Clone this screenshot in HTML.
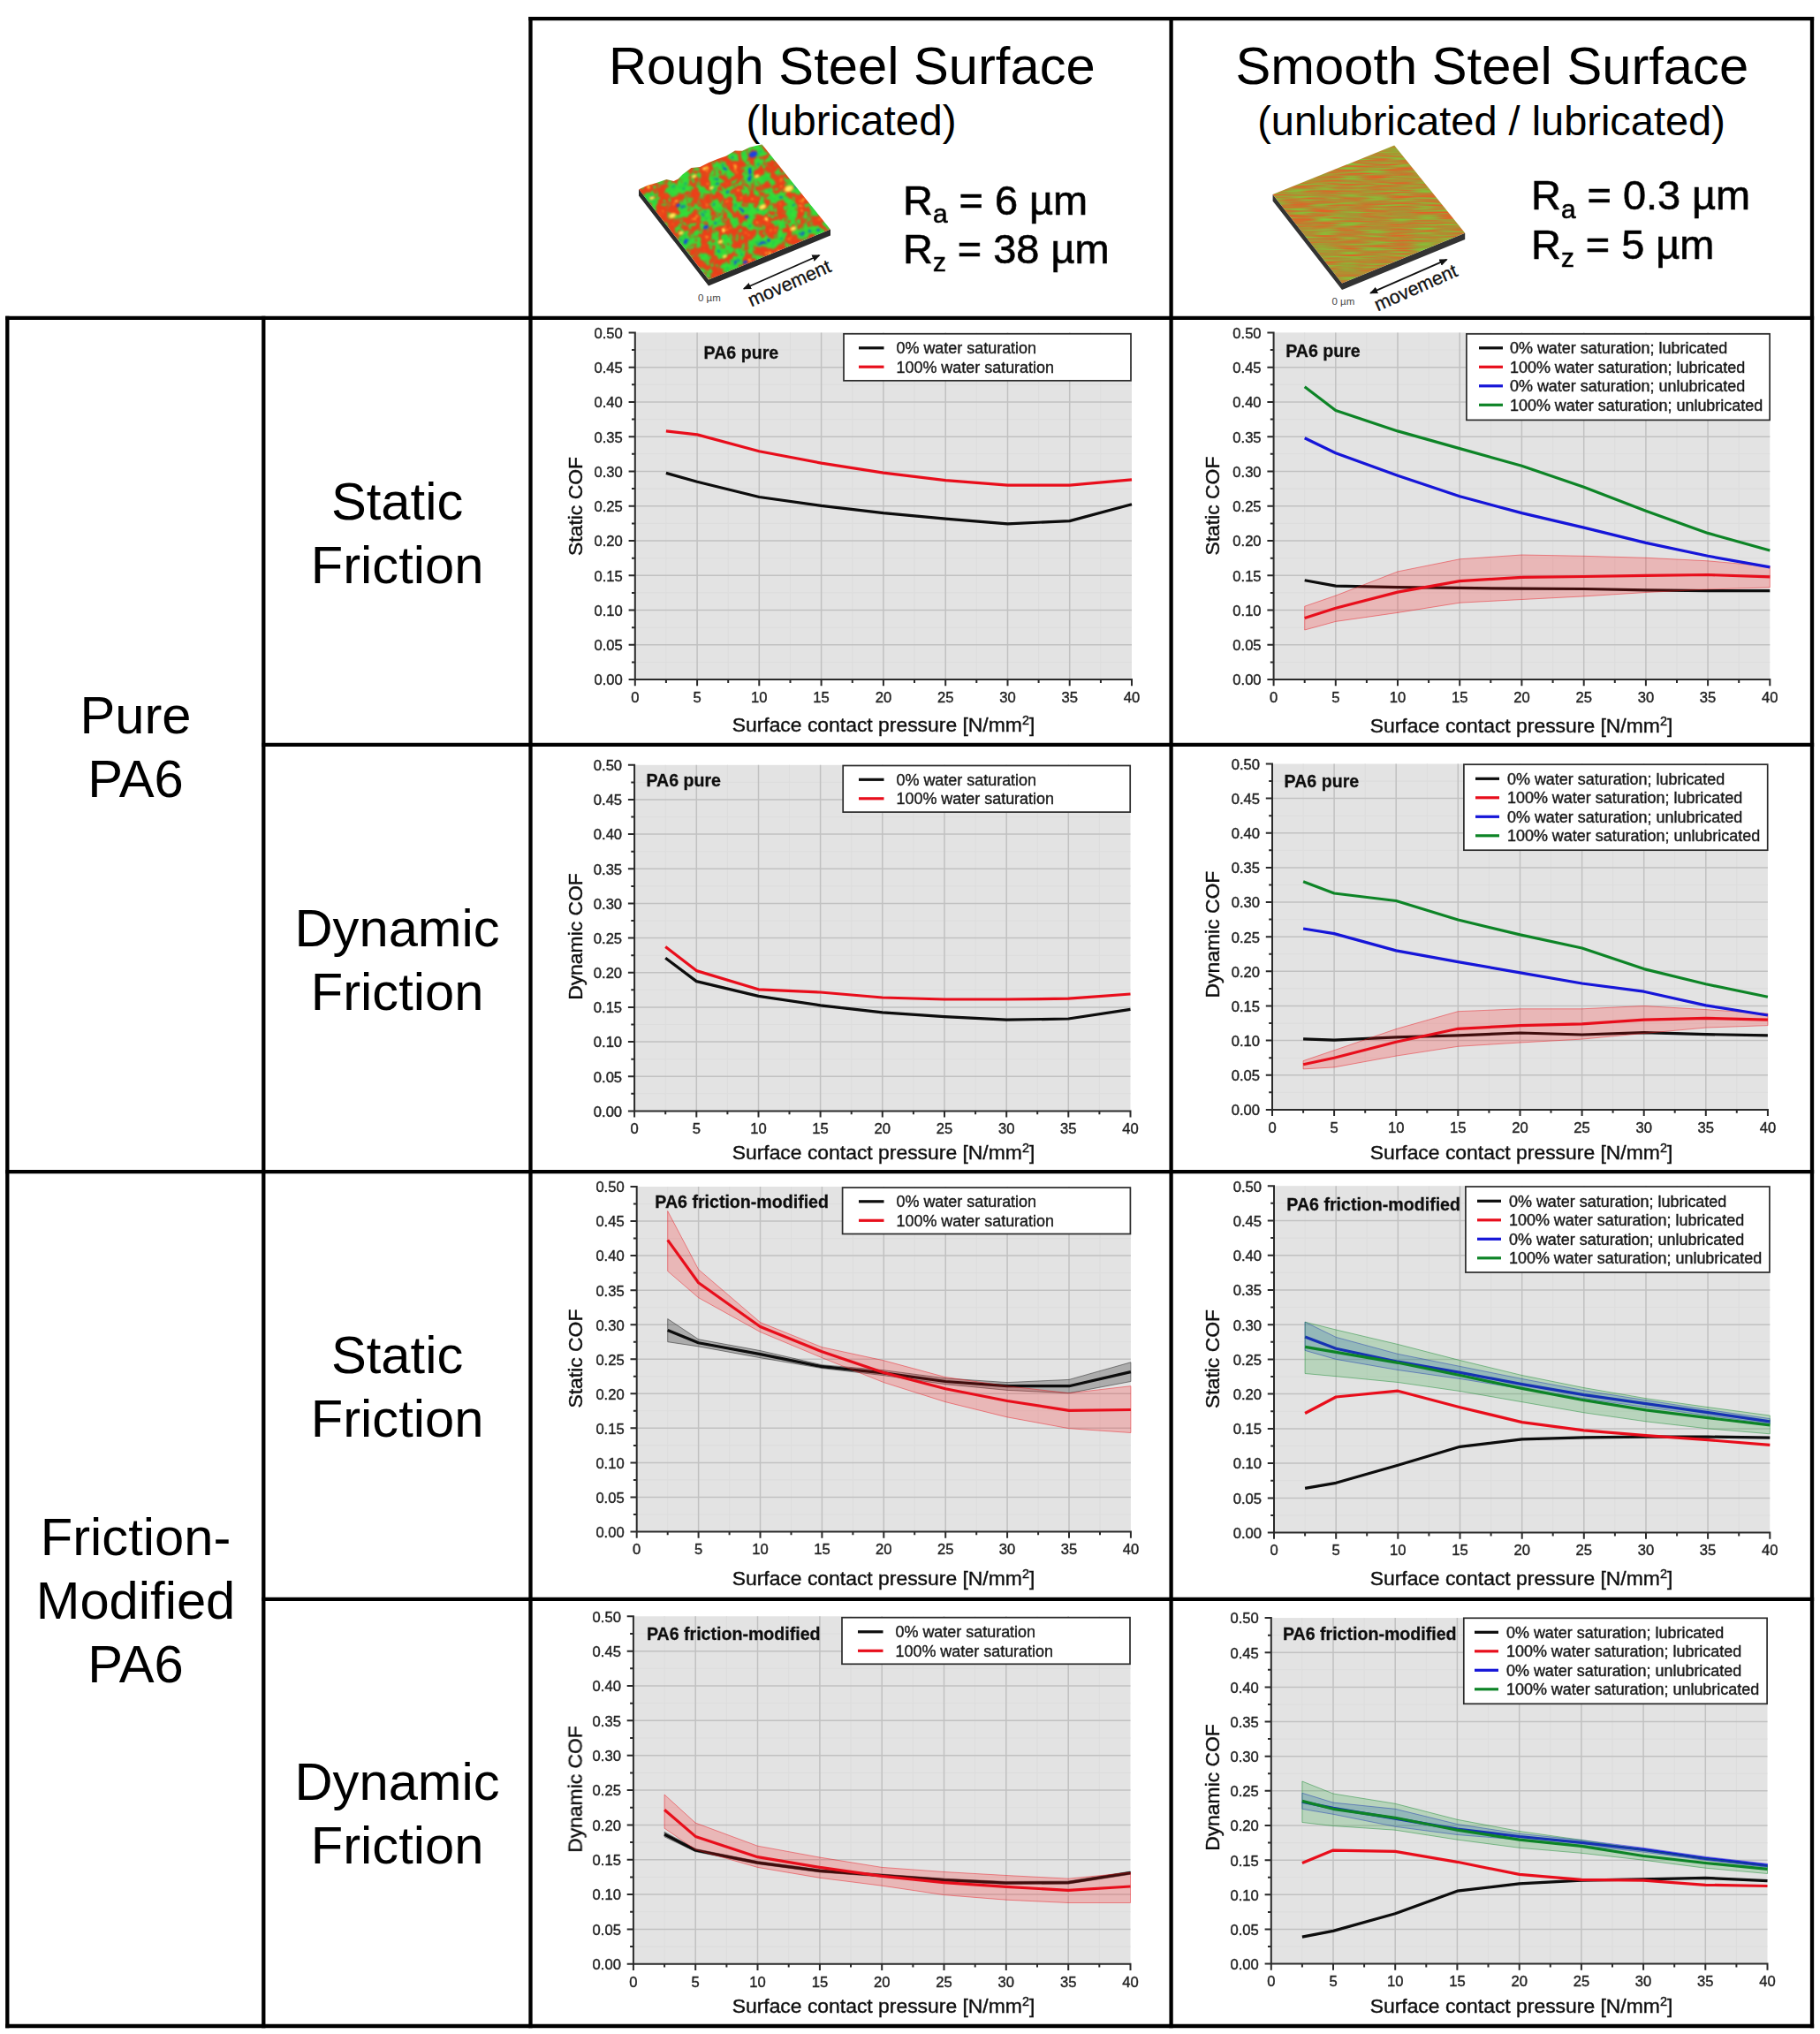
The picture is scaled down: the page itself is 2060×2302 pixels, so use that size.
<!DOCTYPE html>
<html lang="en"><head><meta charset="utf-8"><title>Friction of PA6 on steel surfaces</title>
<style>
html,body{margin:0;padding:0;background:#fff}
svg{display:block}
text{font-family:"Liberation Sans",Arial,Helvetica,sans-serif;fill:#000}
.big{font-size:59.7px}
.sub{font-size:47.6px}
.tk text{font-size:16.6px;fill:#222;stroke:#222;stroke-width:.4px}
.al{font-size:22.9px;fill:#111;stroke:#111;stroke-width:.4px}
.tt{font-size:19.6px;font-weight:bold;fill:#111;stroke:#111;stroke-width:.3px}
.lg{font-size:17.95px;fill:#1a1a1a;stroke:#1a1a1a;stroke-width:.4px}
.ra{font-size:46.9px;fill:#111;stroke:#111;stroke-width:0.7px}
.mv{font-size:21.5px;fill:#111;stroke:#111;stroke-width:.3px}
.um{font-size:11.5px;fill:#444}
</style></head><body>
<svg width="2060" height="2302" viewBox="0 0 2060 2302">
<rect width="2060" height="2302" fill="#fff"/>
<defs>
<filter id="soft" x="-2%" y="-2%" width="104%" height="104%"><feGaussianBlur stdDeviation="0.65"/></filter>
<filter id="soft2" x="-30%" y="-30%" width="160%" height="160%"><feGaussianBlur stdDeviation="0.9"/></filter>
<filter id="rough" x="0" y="0" width="100%" height="100%" color-interpolation-filters="sRGB">
<feTurbulence type="fractalNoise" baseFrequency="0.082" numOctaves="3" seed="4" result="n0"/>
<feTurbulence type="fractalNoise" baseFrequency="0.3" numOctaves="1" seed="9" result="n2"/>
<feColorMatrix in="n0" type="matrix" values="1 0 0 0 0  1 0 0 0 0  1 0 0 0 0  0 0 0 0 1" result="g0"/>
<feColorMatrix in="n2" type="matrix" values="1 0 0 0 0  1 0 0 0 0  1 0 0 0 0  0 0 0 0 1" result="g2"/>
<feComposite in="g0" in2="g2" operator="arithmetic" k1="0" k2="0.85" k3="0.3" k4="-0.075" result="n"/>
<feColorMatrix in="n" type="matrix" values="1.5 0 0 0 -0.285  1.5 0 0 0 -0.285  1.5 0 0 0 -0.285  0 0 0 0 1" result="g"/>
<feComponentTransfer in="g" result="c">
<feFuncR type="discrete" tableValues="0.10 0.12 0.15 0.18 0.20 0.22 0.25 0.60 0.90 0.92 0.92 0.92 0.93 0.95 1.00 1.00"/>
<feFuncG type="discrete" tableValues="0.25 0.45 0.80 0.85 0.87 0.87 0.80 0.50 0.27 0.25 0.25 0.26 0.30 0.50 0.85 0.95"/>
<feFuncB type="discrete" tableValues="0.90 0.70 0.30 0.22 0.22 0.22 0.20 0.15 0.10 0.10 0.10 0.10 0.10 0.12 0.22 0.45"/>
</feComponentTransfer>
<feGaussianBlur in="c" stdDeviation="0.9" result="b"/>
<feComposite in="b" in2="SourceGraphic" operator="in"/>
</filter>
<filter id="smooth" x="0" y="0" width="100%" height="100%" color-interpolation-filters="sRGB">
<feTurbulence type="fractalNoise" baseFrequency="0.02 0.04" numOctaves="2" seed="5" result="n"/>
<feColorMatrix in="n" type="matrix" values="1.0 0 0 0 0  1.0 0 0 0 0  1.0 0 0 0 0  0 0 0 0 1" result="g"/>
<feComponentTransfer in="g" result="c">
<feFuncR type="table" tableValues="0.45 0.56 0.64 0.69 0.73 0.80 0.86"/>
<feFuncG type="table" tableValues="0.82 0.70 0.60 0.555 0.51 0.45 0.40"/>
<feFuncB type="table" tableValues="0.22 0.21 0.20 0.20 0.19 0.18 0.17"/>
</feComponentTransfer>
<feTurbulence type="fractalNoise" baseFrequency="0.035 0.5" numOctaves="1" seed="11" result="s"/>
<feColorMatrix in="s" type="matrix" values="0 0 0 0 0.89  0 0 0 0 0.38  0 0 0 0 0.15  3 0 0 0 -1.25" result="st"/>
<feColorMatrix in="s" type="matrix" values="0 0 0 0 0.50  0 0 0 0 0.78  0 0 0 0 0.22  0 3 0 0 -1.35" result="sg"/>
<feComposite in="st" in2="c" operator="over" result="m1"/>
<feComposite in="sg" in2="m1" operator="over" result="m"/>
<feGaussianBlur in="m" stdDeviation="0.55" result="b"/>
<feComposite in="b" in2="SourceGraphic" operator="in"/>
</filter>
<marker id="ah" viewBox="0 0 10 10" refX="8.5" refY="5" markerWidth="5.2" markerHeight="5.2" orient="auto-start-reverse"><path d="M0 0.8L10 5L0 9.2z" fill="#111"/></marker>
</defs>
<g stroke="#000" stroke-width="4.3" fill="none" stroke-linecap="square">
<path d="M8.3 359.8V2293M298.3 359.8V2293M600.5 21.1V2293M1325.6 21.1V2293M2051 21.1V2293"/>
<path d="M600.5 21.1H2051M8.3 359.8H2051M298.3 842.9H2051M8.3 1326.1H2051M298.3 1809.9H2051M8.3 2293H2051"/>
</g>
<g class="big" text-anchor="middle">
<text x="964.3" y="95">Rough Steel Surface</text>
<text x="1688.8" y="95">Smooth Steel Surface</text>
<text x="449.6" y="587.5">Static</text><text x="449.6" y="660">Friction</text>
<text x="449.6" y="1071">Dynamic</text><text x="449.6" y="1143">Friction</text>
<text x="449.6" y="1554">Static</text><text x="449.6" y="1626">Friction</text>
<text x="449.6" y="2037">Dynamic</text><text x="449.6" y="2109">Friction</text>
<text x="153.5" y="829.7">Pure</text><text x="153.5" y="901.5">PA6</text>
<text x="153.5" y="1760">Friction-</text><text x="153.5" y="1832">Modified</text><text x="153.5" y="1904">PA6</text>
</g>
<g class="sub" text-anchor="middle">
<text x="963.5" y="153">(lubricated)</text>
<text x="1688" y="153" font-size="46.95">(unlubricated / lubricated)</text>
</g>
<g id="roughsurf">
<polygon points="723,214 723,221.5 802,323.5 940,266.5 940,259.5 802,316.5" fill="#2b2b2b"/>
<polygon points="723.1,214.3 733.0,209.7 742.9,206.9 754.4,203.1 762.6,204.9 767.6,202.4 772.5,197.5 782.4,189.9 792.3,188.9 802.2,184.0 812.1,180.0 822.0,176.4 831.9,170.4 840.1,170.8 848.4,166.8 856.6,164.8 862.4,163.2 939.8,259.6 802.2,316.5" fill="#e43" filter="url(#rough)"/>
<g filter="url(#soft2)"><ellipse cx="892.9" cy="213.5" rx="5.8" ry="3.7" fill="#ffb02a" transform="rotate(-22 892.9 213.5)"/><ellipse cx="892.9" cy="213.5" rx="3.7" ry="2.3" fill="#fff060" transform="rotate(-22 892.9 213.5)"/><ellipse cx="863.2" cy="234.1" rx="4.5" ry="2.9" fill="#ffb02a" transform="rotate(-22 863.2 234.1)"/><ellipse cx="863.2" cy="234.1" rx="2.9" ry="1.8" fill="#fff060" transform="rotate(-22 863.2 234.1)"/><ellipse cx="761.0" cy="244.0" rx="4.5" ry="2.9" fill="#ffb02a" transform="rotate(-22 761.0 244.0)"/><ellipse cx="761.0" cy="244.0" rx="2.9" ry="1.8" fill="#fff060" transform="rotate(-22 761.0 244.0)"/><ellipse cx="737.9" cy="224.2" rx="3.1" ry="2.0" fill="#ffb02a" transform="rotate(-22 737.9 224.2)"/><ellipse cx="737.9" cy="224.2" rx="2.0" ry="1.2" fill="#fff060" transform="rotate(-22 737.9 224.2)"/><ellipse cx="897.8" cy="258.8" rx="3.8" ry="2.4" fill="#ffb02a" transform="rotate(-22 897.8 258.8)"/><ellipse cx="897.8" cy="258.8" rx="2.4" ry="1.5" fill="#fff060" transform="rotate(-22 897.8 258.8)"/><ellipse cx="815.4" cy="273.6" rx="3.2" ry="2.1" fill="#ffb02a" transform="rotate(-22 815.4 273.6)"/><ellipse cx="815.4" cy="273.6" rx="2.1" ry="1.3" fill="#fff060" transform="rotate(-22 815.4 273.6)"/><ellipse cx="856.6" cy="199.5" rx="3.1" ry="2.0" fill="#ffb02a" transform="rotate(-22 856.6 199.5)"/><ellipse cx="856.6" cy="199.5" rx="2.0" ry="1.2" fill="#fff060" transform="rotate(-22 856.6 199.5)"/><ellipse cx="785.7" cy="199.5" rx="3.1" ry="2.0" fill="#ffb02a" transform="rotate(-22 785.7 199.5)"/><ellipse cx="785.7" cy="199.5" rx="2.0" ry="1.2" fill="#fff060" transform="rotate(-22 785.7 199.5)"/><ellipse cx="805.5" cy="212.6" rx="2.8" ry="1.8" fill="#ffb02a" transform="rotate(-22 805.5 212.6)"/><ellipse cx="805.5" cy="212.6" rx="1.8" ry="1.1" fill="#fff060" transform="rotate(-22 805.5 212.6)"/><ellipse cx="770.9" cy="263.7" rx="3.1" ry="2.0" fill="#ffb02a" transform="rotate(-22 770.9 263.7)"/><ellipse cx="770.9" cy="263.7" rx="2.0" ry="1.2" fill="#fff060" transform="rotate(-22 770.9 263.7)"/><ellipse cx="820.3" cy="290.1" rx="2.8" ry="1.8" fill="#ffb02a" transform="rotate(-22 820.3 290.1)"/><ellipse cx="820.3" cy="290.1" rx="1.8" ry="1.1" fill="#fff060" transform="rotate(-22 820.3 290.1)"/><ellipse cx="852.5" cy="174.7" rx="5.0" ry="3.4" fill="#1a40e0" transform="rotate(-22 852.5 174.7)"/><ellipse cx="798.9" cy="257.1" rx="3.0" ry="2.0" fill="#1a40e0" transform="rotate(-22 798.9 257.1)"/><ellipse cx="845.1" cy="245.6" rx="2.4" ry="1.6" fill="#1a40e0" transform="rotate(-22 845.1 245.6)"/><ellipse cx="767.6" cy="232.4" rx="2.4" ry="1.6" fill="#1a40e0" transform="rotate(-22 767.6 232.4)"/><ellipse cx="843.4" cy="296.7" rx="2.6" ry="1.8" fill="#1a40e0" transform="rotate(-22 843.4 296.7)"/></g>
<path d="M842 326.7L927.3 289" stroke="#111" stroke-width="1.8" marker-start="url(#ah)" marker-end="url(#ah)"/>
<text class="mv" transform="translate(850.5 347.5) rotate(-23.9)">movement</text>
<text class="um" x="790" y="341">0 µm</text>
</g>
<g id="smoothsurf">
<polygon points="1440.6,220 1440.6,227.5 1519,328 1658.2,271 1658.2,263.7 1519,320.6" fill="#333"/>
<polygon points="1440.6,220.1 1578.2,164.5 1658.2,263.7 1518.9,320.6" fill="#b83" filter="url(#smooth)"/>
<path d="M1551.3 331.6L1637.4 293.9" stroke="#111" stroke-width="1.8" marker-start="url(#ah)" marker-end="url(#ah)"/>
<text class="mv" transform="translate(1559.5 352.5) rotate(-23.9)">movement</text>
<text class="um" x="1507.5" y="345">0 µm</text>
</g>
<g class="ra" filter="url(#soft)">
<text x="1022" y="242.6">R<tspan font-size="29.8" dy="9.3">a</tspan><tspan dy="-9.3"> = 6 µm</tspan></text>
<text x="1022" y="297.9">R<tspan font-size="29.8" dy="9.3">z</tspan><tspan dy="-9.3"> = 38 µm</tspan></text>
<text x="1733" y="237.3">R<tspan font-size="29.8" dy="9.3">a</tspan><tspan dy="-9.3"> = 0.3 µm</tspan></text>
<text x="1733" y="292.5">R<tspan font-size="29.8" dy="9.3">z</tspan><tspan dy="-9.3"> = 5 µm</tspan></text>
</g>
<g filter="url(#soft)">
<g class="chart">
<rect x="718.8" y="376.4" width="562.2" height="392.7" fill="#e3e3e3"/>
<path d="M753.9 376.4V769.1M824.2 376.4V769.1M894.5 376.4V769.1M964.8 376.4V769.1M1035.0 376.4V769.1M1105.3 376.4V769.1M1175.6 376.4V769.1M1245.9 376.4V769.1M718.8 749.5H1281.0M718.8 710.2H1281.0M718.8 670.9H1281.0M718.8 631.7H1281.0M718.8 592.4H1281.0M718.8 553.1H1281.0M718.8 513.8H1281.0M718.8 474.6H1281.0M718.8 435.3H1281.0M718.8 396.0H1281.0" stroke="#dddddd" stroke-width="1.1" fill="none"/>
<path d="M789.1 376.4V769.1M859.3 376.4V769.1M929.6 376.4V769.1M999.9 376.4V769.1M1070.2 376.4V769.1M1140.5 376.4V769.1M1210.7 376.4V769.1M718.8 729.8H1281.0M718.8 690.6H1281.0M718.8 651.3H1281.0M718.8 612.0H1281.0M718.8 572.8H1281.0M718.8 533.5H1281.0M718.8 494.2H1281.0M718.8 454.9H1281.0M718.8 415.7H1281.0" stroke="#c1c1c1" stroke-width="1.5" fill="none"/>
<polyline points="753.9,535.4 789.1,545.3 859.3,562.5 929.6,572.4 999.9,580.6 1070.2,587.2 1140.5,592.8 1210.7,589.6 1281.0,570.7" fill="none" stroke="#0a0a0a" stroke-width="3.2" stroke-linejoin="round"/>
<polyline points="753.9,487.9 789.1,491.9 859.3,510.7 929.6,524.1 999.9,535.1 1070.2,543.7 1140.5,549.2 1210.7,549.2 1281.0,542.9" fill="none" stroke="#e8111a" stroke-width="3.2" stroke-linejoin="round"/>
<path d="M718.8 375.4V770.1M717.8 769.1H1282.0M718.8 769.1v7.2M789.1 769.1v7.2M859.3 769.1v7.2M929.6 769.1v7.2M999.9 769.1v7.2M1070.2 769.1v7.2M1140.5 769.1v7.2M1210.7 769.1v7.2M1281.0 769.1v7.2M753.9 769.1v3.8M824.2 769.1v3.8M894.5 769.1v3.8M964.8 769.1v3.8M1035.0 769.1v3.8M1105.3 769.1v3.8M1175.6 769.1v3.8M1245.9 769.1v3.8M718.8 769.1h-7.2M718.8 729.8h-7.2M718.8 690.6h-7.2M718.8 651.3h-7.2M718.8 612.0h-7.2M718.8 572.8h-7.2M718.8 533.5h-7.2M718.8 494.2h-7.2M718.8 454.9h-7.2M718.8 415.7h-7.2M718.8 376.4h-7.2M718.8 749.5h-3.8M718.8 710.2h-3.8M718.8 670.9h-3.8M718.8 631.7h-3.8M718.8 592.4h-3.8M718.8 553.1h-3.8M718.8 513.8h-3.8M718.8 474.6h-3.8M718.8 435.3h-3.8M718.8 396.0h-3.8" stroke="#2a2a2a" stroke-width="2" fill="none"/>
<g class="tk" text-anchor="middle">
<text x="718.8" y="794.9">0</text>
<text x="789.1" y="794.9">5</text>
<text x="859.3" y="794.9">10</text>
<text x="929.6" y="794.9">15</text>
<text x="999.9" y="794.9">20</text>
<text x="1070.2" y="794.9">25</text>
<text x="1140.5" y="794.9">30</text>
<text x="1210.7" y="794.9">35</text>
<text x="1281.0" y="794.9">40</text>
</g><g class="tk" text-anchor="end">
<text x="704.8" y="775.4">0.00</text>
<text x="704.8" y="736.1">0.05</text>
<text x="704.8" y="696.9">0.10</text>
<text x="704.8" y="657.6">0.15</text>
<text x="704.8" y="618.3">0.20</text>
<text x="704.8" y="579.0">0.25</text>
<text x="704.8" y="539.8">0.30</text>
<text x="704.8" y="500.5">0.35</text>
<text x="704.8" y="461.2">0.40</text>
<text x="704.8" y="422.0">0.45</text>
<text x="704.8" y="382.7">0.50</text>
</g>
<text class="al" text-anchor="middle" x="1000.0" y="828.3">Surface contact pressure [N/mm<tspan font-size="14.5" dy="-8">2</tspan><tspan dy="8">]</tspan></text>
<text class="al" text-anchor="middle" transform="translate(658.6 573.0) rotate(-90)">Static COF</text>
<text class="tt" x="796.6" y="406.0">PA6 pure</text>
<rect x="955.0" y="377.8" width="325.0" height="53.0" fill="#fff" stroke="#2a2a2a" stroke-width="1.7"/>
<path d="M972.0 393.8H1000.5" stroke="#0a0a0a" stroke-width="3.2"/>
<text class="lg" x="1014.5" y="400.4">0% water saturation</text>
<path d="M972.0 415.2H1000.5" stroke="#e8111a" stroke-width="3.2"/>
<text class="lg" x="1014.5" y="421.8">100% water saturation</text>
</g>
<g class="chart">
<rect x="1441.6" y="376.4" width="561.7" height="392.7" fill="#e3e3e3"/>
<path d="M1476.7 376.4V769.1M1546.9 376.4V769.1M1617.1 376.4V769.1M1687.3 376.4V769.1M1757.6 376.4V769.1M1827.8 376.4V769.1M1898.0 376.4V769.1M1968.2 376.4V769.1M1441.6 749.5H2003.3M1441.6 710.2H2003.3M1441.6 670.9H2003.3M1441.6 631.7H2003.3M1441.6 592.4H2003.3M1441.6 553.1H2003.3M1441.6 513.8H2003.3M1441.6 474.6H2003.3M1441.6 435.3H2003.3M1441.6 396.0H2003.3" stroke="#dddddd" stroke-width="1.1" fill="none"/>
<path d="M1511.8 376.4V769.1M1582.0 376.4V769.1M1652.2 376.4V769.1M1722.4 376.4V769.1M1792.7 376.4V769.1M1862.9 376.4V769.1M1933.1 376.4V769.1M1441.6 729.8H2003.3M1441.6 690.6H2003.3M1441.6 651.3H2003.3M1441.6 612.0H2003.3M1441.6 572.8H2003.3M1441.6 533.5H2003.3M1441.6 494.2H2003.3M1441.6 454.9H2003.3M1441.6 415.7H2003.3" stroke="#c1c1c1" stroke-width="1.5" fill="none"/>
<polyline points="1476.7,656.8 1511.8,663.1 1582.0,664.6 1652.2,665.4 1722.4,666.2 1792.7,666.5 1862.9,667.8 1933.1,668.6 2003.3,668.6" fill="none" stroke="#0a0a0a" stroke-width="3.2" stroke-linejoin="round"/>
<polygon points="1476.7,686.2 1511.8,674.1 1582.0,646.9 1652.2,632.8 1722.4,628.0 1792.7,629.3 1862.9,631.3 1933.1,634.8 2003.3,641.1 2003.3,664.9 1933.1,667.0 1862.9,670.5 1792.7,674.9 1722.4,678.5 1652.2,682.2 1582.0,693.4 1511.8,703.4 1476.7,713.0" fill="#ff1a1a" fill-opacity="0.22" stroke="#e8111a" stroke-opacity="0.45" stroke-width="1"/>
<polyline points="1476.7,699.4 1511.8,688.2 1582.0,670.1 1652.2,657.6 1722.4,653.3 1792.7,652.5 1862.9,651.3 1933.1,650.5 2003.3,652.9" fill="none" stroke="#e8111a" stroke-width="3.2" stroke-linejoin="round"/>
<polyline points="1476.7,495.8 1511.8,512.7 1582.0,538.2 1652.2,561.8 1722.4,580.6 1792.7,597.1 1862.9,614.4 1933.1,629.3 2003.3,641.9" fill="none" stroke="#1212d8" stroke-width="3.2" stroke-linejoin="round"/>
<polyline points="1476.7,437.7 1511.8,464.4 1582.0,487.9 1652.2,507.6 1722.4,527.2 1792.7,551.2 1862.9,578.2 1933.1,603.4 2003.3,623.0" fill="none" stroke="#0e8428" stroke-width="3.2" stroke-linejoin="round"/>
<path d="M1441.6 375.4V770.1M1440.6 769.1H2004.3M1441.6 769.1v7.2M1511.8 769.1v7.2M1582.0 769.1v7.2M1652.2 769.1v7.2M1722.4 769.1v7.2M1792.7 769.1v7.2M1862.9 769.1v7.2M1933.1 769.1v7.2M2003.3 769.1v7.2M1476.7 769.1v3.8M1546.9 769.1v3.8M1617.1 769.1v3.8M1687.3 769.1v3.8M1757.6 769.1v3.8M1827.8 769.1v3.8M1898.0 769.1v3.8M1968.2 769.1v3.8M1441.6 769.1h-7.2M1441.6 729.8h-7.2M1441.6 690.6h-7.2M1441.6 651.3h-7.2M1441.6 612.0h-7.2M1441.6 572.8h-7.2M1441.6 533.5h-7.2M1441.6 494.2h-7.2M1441.6 454.9h-7.2M1441.6 415.7h-7.2M1441.6 376.4h-7.2M1441.6 749.5h-3.8M1441.6 710.2h-3.8M1441.6 670.9h-3.8M1441.6 631.7h-3.8M1441.6 592.4h-3.8M1441.6 553.1h-3.8M1441.6 513.8h-3.8M1441.6 474.6h-3.8M1441.6 435.3h-3.8M1441.6 396.0h-3.8" stroke="#2a2a2a" stroke-width="2" fill="none"/>
<g class="tk" text-anchor="middle">
<text x="1441.6" y="794.9">0</text>
<text x="1511.8" y="794.9">5</text>
<text x="1582.0" y="794.9">10</text>
<text x="1652.2" y="794.9">15</text>
<text x="1722.4" y="794.9">20</text>
<text x="1792.7" y="794.9">25</text>
<text x="1862.9" y="794.9">30</text>
<text x="1933.1" y="794.9">35</text>
<text x="2003.3" y="794.9">40</text>
</g><g class="tk" text-anchor="end">
<text x="1427.6" y="775.4">0.00</text>
<text x="1427.6" y="736.1">0.05</text>
<text x="1427.6" y="696.9">0.10</text>
<text x="1427.6" y="657.6">0.15</text>
<text x="1427.6" y="618.3">0.20</text>
<text x="1427.6" y="579.0">0.25</text>
<text x="1427.6" y="539.8">0.30</text>
<text x="1427.6" y="500.5">0.35</text>
<text x="1427.6" y="461.2">0.40</text>
<text x="1427.6" y="422.0">0.45</text>
<text x="1427.6" y="382.7">0.50</text>
</g>
<text class="al" text-anchor="middle" x="1722.0" y="828.6">Surface contact pressure [N/mm<tspan font-size="14.5" dy="-8">2</tspan><tspan dy="8">]</tspan></text>
<text class="al" text-anchor="middle" transform="translate(1380.0 572.6) rotate(-90)">Static COF</text>
<text class="tt" x="1455.2" y="403.6">PA6 pure</text>
<rect x="1659.9" y="377.9" width="343.2" height="97.5" fill="#fff" stroke="#2a2a2a" stroke-width="1.7"/>
<path d="M1674.0 393.8H1701.0" stroke="#0a0a0a" stroke-width="3.2"/>
<text class="lg" x="1709.0" y="400.4">0% water saturation; lubricated</text>
<path d="M1674.0 415.3H1701.0" stroke="#e8111a" stroke-width="3.2"/>
<text class="lg" x="1709.0" y="421.9">100% water saturation; lubricated</text>
<path d="M1674.0 436.8H1701.0" stroke="#1212d8" stroke-width="3.2"/>
<text class="lg" x="1709.0" y="443.4">0% water saturation; unlubricated</text>
<path d="M1674.0 458.3H1701.0" stroke="#0e8428" stroke-width="3.2"/>
<text class="lg" x="1709.0" y="464.9">100% water saturation; unlubricated</text>
</g>
<g class="chart">
<rect x="718.1" y="865.8" width="561.4" height="391.6" fill="#e3e3e3"/>
<path d="M753.2 865.8V1257.4M823.4 865.8V1257.4M893.5 865.8V1257.4M963.7 865.8V1257.4M1033.9 865.8V1257.4M1104.1 865.8V1257.4M1174.2 865.8V1257.4M1244.4 865.8V1257.4M718.1 1237.8H1279.5M718.1 1198.7H1279.5M718.1 1159.5H1279.5M718.1 1120.3H1279.5M718.1 1081.2H1279.5M718.1 1042.0H1279.5M718.1 1002.9H1279.5M718.1 963.7H1279.5M718.1 924.5H1279.5M718.1 885.4H1279.5" stroke="#dddddd" stroke-width="1.1" fill="none"/>
<path d="M788.3 865.8V1257.4M858.5 865.8V1257.4M928.6 865.8V1257.4M998.8 865.8V1257.4M1069.0 865.8V1257.4M1139.2 865.8V1257.4M1209.3 865.8V1257.4M718.1 1218.2H1279.5M718.1 1179.1H1279.5M718.1 1139.9H1279.5M718.1 1100.8H1279.5M718.1 1061.6H1279.5M718.1 1022.4H1279.5M718.1 983.3H1279.5M718.1 944.1H1279.5M718.1 905.0H1279.5" stroke="#c1c1c1" stroke-width="1.5" fill="none"/>
<polyline points="753.2,1084.3 788.3,1110.6 858.5,1127.4 928.6,1137.8 998.8,1145.8 1069.0,1150.6 1139.2,1154.2 1209.3,1153.0 1279.5,1142.3" fill="none" stroke="#0a0a0a" stroke-width="3.2" stroke-linejoin="round"/>
<polyline points="753.2,1071.4 788.3,1098.6 858.5,1119.8 928.6,1123.0 998.8,1129.0 1069.0,1131.0 1139.2,1131.0 1209.3,1130.2 1279.5,1125.0" fill="none" stroke="#e8111a" stroke-width="3.2" stroke-linejoin="round"/>
<path d="M718.1 864.8V1258.4M717.1 1257.4H1280.5M718.1 1257.4v7.2M788.3 1257.4v7.2M858.5 1257.4v7.2M928.6 1257.4v7.2M998.8 1257.4v7.2M1069.0 1257.4v7.2M1139.2 1257.4v7.2M1209.3 1257.4v7.2M1279.5 1257.4v7.2M753.2 1257.4v3.8M823.4 1257.4v3.8M893.5 1257.4v3.8M963.7 1257.4v3.8M1033.9 1257.4v3.8M1104.1 1257.4v3.8M1174.2 1257.4v3.8M1244.4 1257.4v3.8M718.1 1257.4h-7.2M718.1 1218.2h-7.2M718.1 1179.1h-7.2M718.1 1139.9h-7.2M718.1 1100.8h-7.2M718.1 1061.6h-7.2M718.1 1022.4h-7.2M718.1 983.3h-7.2M718.1 944.1h-7.2M718.1 905.0h-7.2M718.1 865.8h-7.2M718.1 1237.8h-3.8M718.1 1198.7h-3.8M718.1 1159.5h-3.8M718.1 1120.3h-3.8M718.1 1081.2h-3.8M718.1 1042.0h-3.8M718.1 1002.9h-3.8M718.1 963.7h-3.8M718.1 924.5h-3.8M718.1 885.4h-3.8" stroke="#2a2a2a" stroke-width="2" fill="none"/>
<g class="tk" text-anchor="middle">
<text x="718.1" y="1283.2">0</text>
<text x="788.3" y="1283.2">5</text>
<text x="858.5" y="1283.2">10</text>
<text x="928.6" y="1283.2">15</text>
<text x="998.8" y="1283.2">20</text>
<text x="1069.0" y="1283.2">25</text>
<text x="1139.2" y="1283.2">30</text>
<text x="1209.3" y="1283.2">35</text>
<text x="1279.5" y="1283.2">40</text>
</g><g class="tk" text-anchor="end">
<text x="704.1" y="1263.7">0.00</text>
<text x="704.1" y="1224.5">0.05</text>
<text x="704.1" y="1185.4">0.10</text>
<text x="704.1" y="1146.2">0.15</text>
<text x="704.1" y="1107.1">0.20</text>
<text x="704.1" y="1067.9">0.25</text>
<text x="704.1" y="1028.7">0.30</text>
<text x="704.1" y="989.6">0.35</text>
<text x="704.1" y="950.4">0.40</text>
<text x="704.1" y="911.3">0.45</text>
<text x="704.1" y="872.1">0.50</text>
</g>
<text class="al" text-anchor="middle" x="1000.0" y="1312.0">Surface contact pressure [N/mm<tspan font-size="14.5" dy="-8">2</tspan><tspan dy="8">]</tspan></text>
<text class="al" text-anchor="middle" transform="translate(658.6 1060.0) rotate(-90)">Dynamic COF</text>
<text class="tt" x="731.4" y="889.8">PA6 pure</text>
<rect x="954.2" y="866.5" width="325.0" height="52.6" fill="#fff" stroke="#2a2a2a" stroke-width="1.7"/>
<path d="M972.0 882.3H1000.5" stroke="#0a0a0a" stroke-width="3.2"/>
<text class="lg" x="1014.5" y="888.9">0% water saturation</text>
<path d="M972.0 903.8H1000.5" stroke="#e8111a" stroke-width="3.2"/>
<text class="lg" x="1014.5" y="910.4">100% water saturation</text>
</g>
<g class="chart">
<rect x="1440.0" y="864.5" width="560.9" height="391.4" fill="#e3e3e3"/>
<path d="M1475.1 864.5V1255.9M1545.2 864.5V1255.9M1615.3 864.5V1255.9M1685.4 864.5V1255.9M1755.5 864.5V1255.9M1825.6 864.5V1255.9M1895.7 864.5V1255.9M1965.8 864.5V1255.9M1440.0 1236.3H2000.9M1440.0 1197.2H2000.9M1440.0 1158.1H2000.9M1440.0 1118.9H2000.9M1440.0 1079.8H2000.9M1440.0 1040.6H2000.9M1440.0 1001.5H2000.9M1440.0 962.3H2000.9M1440.0 923.2H2000.9M1440.0 884.1H2000.9" stroke="#dddddd" stroke-width="1.1" fill="none"/>
<path d="M1510.1 864.5V1255.9M1580.2 864.5V1255.9M1650.3 864.5V1255.9M1720.5 864.5V1255.9M1790.6 864.5V1255.9M1860.7 864.5V1255.9M1930.8 864.5V1255.9M1440.0 1216.8H2000.9M1440.0 1177.6H2000.9M1440.0 1138.5H2000.9M1440.0 1099.3H2000.9M1440.0 1060.2H2000.9M1440.0 1021.1H2000.9M1440.0 981.9H2000.9M1440.0 942.8H2000.9M1440.0 903.6H2000.9" stroke="#c1c1c1" stroke-width="1.5" fill="none"/>
<polyline points="1475.1,1175.9 1510.1,1177.1 1580.2,1173.9 1650.3,1171.8 1720.5,1169.0 1790.6,1171.0 1860.7,1168.6 1930.8,1170.6 2000.9,1171.8" fill="none" stroke="#0a0a0a" stroke-width="3.2" stroke-linejoin="round"/>
<polygon points="1475.1,1200.6 1510.1,1188.7 1580.2,1164.6 1650.3,1144.7 1720.5,1141.8 1790.6,1141.8 1860.7,1138.5 1930.8,1142.6 2000.9,1147.1 2000.9,1160.6 1930.8,1163.1 1860.7,1169.5 1790.6,1176.1 1720.5,1180.0 1650.3,1184.3 1580.2,1195.1 1510.1,1207.9 1475.1,1209.9" fill="#ff1a1a" fill-opacity="0.22" stroke="#e8111a" stroke-opacity="0.45" stroke-width="1"/>
<polyline points="1475.1,1204.7 1510.1,1197.2 1580.2,1179.2 1650.3,1164.3 1720.5,1160.6 1790.6,1158.8 1860.7,1154.1 1930.8,1152.3 2000.9,1154.1" fill="none" stroke="#e8111a" stroke-width="3.2" stroke-linejoin="round"/>
<polyline points="1475.1,1051.0 1510.1,1056.6 1580.2,1075.9 1650.3,1088.6 1720.5,1100.9 1790.6,1113.0 1860.7,1122.2 1930.8,1137.9 2000.9,1149.0" fill="none" stroke="#1212d8" stroke-width="3.2" stroke-linejoin="round"/>
<polyline points="1475.1,997.7 1510.1,1011.0 1580.2,1019.5 1650.3,1041.0 1720.5,1057.9 1790.6,1073.0 1860.7,1096.6 1930.8,1113.8 2000.9,1128.3" fill="none" stroke="#0e8428" stroke-width="3.2" stroke-linejoin="round"/>
<path d="M1440.0 863.5V1256.9M1439.0 1255.9H2001.9M1440.0 1255.9v7.2M1510.1 1255.9v7.2M1580.2 1255.9v7.2M1650.3 1255.9v7.2M1720.5 1255.9v7.2M1790.6 1255.9v7.2M1860.7 1255.9v7.2M1930.8 1255.9v7.2M2000.9 1255.9v7.2M1475.1 1255.9v3.8M1545.2 1255.9v3.8M1615.3 1255.9v3.8M1685.4 1255.9v3.8M1755.5 1255.9v3.8M1825.6 1255.9v3.8M1895.7 1255.9v3.8M1965.8 1255.9v3.8M1440.0 1255.9h-7.2M1440.0 1216.8h-7.2M1440.0 1177.6h-7.2M1440.0 1138.5h-7.2M1440.0 1099.3h-7.2M1440.0 1060.2h-7.2M1440.0 1021.1h-7.2M1440.0 981.9h-7.2M1440.0 942.8h-7.2M1440.0 903.6h-7.2M1440.0 864.5h-7.2M1440.0 1236.3h-3.8M1440.0 1197.2h-3.8M1440.0 1158.1h-3.8M1440.0 1118.9h-3.8M1440.0 1079.8h-3.8M1440.0 1040.6h-3.8M1440.0 1001.5h-3.8M1440.0 962.3h-3.8M1440.0 923.2h-3.8M1440.0 884.1h-3.8" stroke="#2a2a2a" stroke-width="2" fill="none"/>
<g class="tk" text-anchor="middle">
<text x="1440.0" y="1281.7">0</text>
<text x="1510.1" y="1281.7">5</text>
<text x="1580.2" y="1281.7">10</text>
<text x="1650.3" y="1281.7">15</text>
<text x="1720.5" y="1281.7">20</text>
<text x="1790.6" y="1281.7">25</text>
<text x="1860.7" y="1281.7">30</text>
<text x="1930.8" y="1281.7">35</text>
<text x="2000.9" y="1281.7">40</text>
</g><g class="tk" text-anchor="end">
<text x="1426.0" y="1262.2">0.00</text>
<text x="1426.0" y="1223.1">0.05</text>
<text x="1426.0" y="1183.9">0.10</text>
<text x="1426.0" y="1144.8">0.15</text>
<text x="1426.0" y="1105.6">0.20</text>
<text x="1426.0" y="1066.5">0.25</text>
<text x="1426.0" y="1027.4">0.30</text>
<text x="1426.0" y="988.2">0.35</text>
<text x="1426.0" y="949.1">0.40</text>
<text x="1426.0" y="909.9">0.45</text>
<text x="1426.0" y="870.8">0.50</text>
</g>
<text class="al" text-anchor="middle" x="1722.0" y="1312.0">Surface contact pressure [N/mm<tspan font-size="14.5" dy="-8">2</tspan><tspan dy="8">]</tspan></text>
<text class="al" text-anchor="middle" transform="translate(1380.0 1057.6) rotate(-90)">Dynamic COF</text>
<text class="tt" x="1453.6" y="890.7">PA6 pure</text>
<rect x="1656.9" y="865.2" width="343.8" height="97.0" fill="#fff" stroke="#2a2a2a" stroke-width="1.7"/>
<path d="M1670.0 881.3H1697.0" stroke="#0a0a0a" stroke-width="3.2"/>
<text class="lg" x="1706.0" y="887.9">0% water saturation; lubricated</text>
<path d="M1670.0 902.8H1697.0" stroke="#e8111a" stroke-width="3.2"/>
<text class="lg" x="1706.0" y="909.4">100% water saturation; lubricated</text>
<path d="M1670.0 924.3H1697.0" stroke="#1212d8" stroke-width="3.2"/>
<text class="lg" x="1706.0" y="930.9">0% water saturation; unlubricated</text>
<path d="M1670.0 945.8H1697.0" stroke="#0e8428" stroke-width="3.2"/>
<text class="lg" x="1706.0" y="952.4">100% water saturation; unlubricated</text>
</g>
<g class="chart">
<rect x="720.7" y="1343.0" width="559.2" height="390.5" fill="#e3e3e3"/>
<path d="M755.7 1343.0V1733.5M825.6 1343.0V1733.5M895.5 1343.0V1733.5M965.4 1343.0V1733.5M1035.2 1343.0V1733.5M1105.2 1343.0V1733.5M1175.1 1343.0V1733.5M1245.0 1343.0V1733.5M720.7 1714.0H1279.9M720.7 1674.9H1279.9M720.7 1635.9H1279.9M720.7 1596.8H1279.9M720.7 1557.8H1279.9M720.7 1518.7H1279.9M720.7 1479.7H1279.9M720.7 1440.6H1279.9M720.7 1401.6H1279.9M720.7 1362.5H1279.9" stroke="#dddddd" stroke-width="1.1" fill="none"/>
<path d="M790.6 1343.0V1733.5M860.5 1343.0V1733.5M930.4 1343.0V1733.5M1000.3 1343.0V1733.5M1070.2 1343.0V1733.5M1140.1 1343.0V1733.5M1210.0 1343.0V1733.5M720.7 1694.5H1279.9M720.7 1655.4H1279.9M720.7 1616.3H1279.9M720.7 1577.3H1279.9M720.7 1538.2H1279.9M720.7 1499.2H1279.9M720.7 1460.2H1279.9M720.7 1421.1H1279.9M720.7 1382.0H1279.9" stroke="#c1c1c1" stroke-width="1.5" fill="none"/>
<polygon points="755.7,1492.6 790.6,1515.8 860.5,1528.6 930.4,1544.7 1000.3,1550.7 1070.2,1559.9 1140.1,1564.6 1210.0,1561.4 1279.9,1541.8 1279.9,1563.5 1210.0,1576.7 1140.1,1573.4 1070.2,1566.7 1000.3,1556.7 930.4,1548.6 860.5,1536.7 790.6,1523.9 755.7,1518.7" fill="#000" fill-opacity="0.24" stroke="#0a0a0a" stroke-opacity="0.45" stroke-width="1"/>
<polyline points="755.7,1505.4 790.6,1519.8 860.5,1532.6 930.4,1546.7 1000.3,1553.9 1070.2,1563.5 1140.1,1568.7 1210.0,1568.7 1279.9,1552.6" fill="none" stroke="#0a0a0a" stroke-width="3.2" stroke-linejoin="round"/>
<polygon points="755.7,1370.6 790.6,1436.7 860.5,1496.6 930.4,1524.7 1000.3,1539.8 1070.2,1558.6 1140.1,1568.7 1210.0,1576.7 1279.9,1568.7 1279.9,1621.5 1210.0,1616.7 1140.1,1603.9 1070.2,1586.7 1000.3,1564.6 930.4,1536.7 860.5,1507.5 790.6,1468.7 755.7,1438.6" fill="#ff1a1a" fill-opacity="0.22" stroke="#e8111a" stroke-opacity="0.45" stroke-width="1"/>
<polyline points="755.7,1403.4 790.6,1451.8 860.5,1501.5 930.4,1529.8 1000.3,1553.5 1070.2,1571.8 1140.1,1585.5 1210.0,1596.3 1279.9,1595.5" fill="none" stroke="#e8111a" stroke-width="3.2" stroke-linejoin="round"/>
<path d="M720.7 1342.0V1734.5M719.7 1733.5H1280.9M720.7 1733.5v7.2M790.6 1733.5v7.2M860.5 1733.5v7.2M930.4 1733.5v7.2M1000.3 1733.5v7.2M1070.2 1733.5v7.2M1140.1 1733.5v7.2M1210.0 1733.5v7.2M1279.9 1733.5v7.2M755.7 1733.5v3.8M825.6 1733.5v3.8M895.5 1733.5v3.8M965.4 1733.5v3.8M1035.2 1733.5v3.8M1105.2 1733.5v3.8M1175.1 1733.5v3.8M1245.0 1733.5v3.8M720.7 1733.5h-7.2M720.7 1694.5h-7.2M720.7 1655.4h-7.2M720.7 1616.3h-7.2M720.7 1577.3h-7.2M720.7 1538.2h-7.2M720.7 1499.2h-7.2M720.7 1460.2h-7.2M720.7 1421.1h-7.2M720.7 1382.0h-7.2M720.7 1343.0h-7.2M720.7 1714.0h-3.8M720.7 1674.9h-3.8M720.7 1635.9h-3.8M720.7 1596.8h-3.8M720.7 1557.8h-3.8M720.7 1518.7h-3.8M720.7 1479.7h-3.8M720.7 1440.6h-3.8M720.7 1401.6h-3.8M720.7 1362.5h-3.8" stroke="#2a2a2a" stroke-width="2" fill="none"/>
<g class="tk" text-anchor="middle">
<text x="720.7" y="1759.3">0</text>
<text x="790.6" y="1759.3">5</text>
<text x="860.5" y="1759.3">10</text>
<text x="930.4" y="1759.3">15</text>
<text x="1000.3" y="1759.3">20</text>
<text x="1070.2" y="1759.3">25</text>
<text x="1140.1" y="1759.3">30</text>
<text x="1210.0" y="1759.3">35</text>
<text x="1279.9" y="1759.3">40</text>
</g><g class="tk" text-anchor="end">
<text x="706.7" y="1739.8">0.00</text>
<text x="706.7" y="1700.8">0.05</text>
<text x="706.7" y="1661.7">0.10</text>
<text x="706.7" y="1622.6">0.15</text>
<text x="706.7" y="1583.6">0.20</text>
<text x="706.7" y="1544.5">0.25</text>
<text x="706.7" y="1505.5">0.30</text>
<text x="706.7" y="1466.5">0.35</text>
<text x="706.7" y="1427.4">0.40</text>
<text x="706.7" y="1388.3">0.45</text>
<text x="706.7" y="1349.3">0.50</text>
</g>
<text class="al" text-anchor="middle" x="1000.0" y="1793.8">Surface contact pressure [N/mm<tspan font-size="14.5" dy="-8">2</tspan><tspan dy="8">]</tspan></text>
<text class="al" text-anchor="middle" transform="translate(658.6 1537.6) rotate(-90)">Static COF</text>
<text class="tt" x="741.3" y="1367.2">PA6 friction-modified</text>
<rect x="953.6" y="1344.1" width="325.8" height="52.4" fill="#fff" stroke="#2a2a2a" stroke-width="1.7"/>
<path d="M972.0 1359.8H1000.5" stroke="#0a0a0a" stroke-width="3.2"/>
<text class="lg" x="1014.5" y="1366.4">0% water saturation</text>
<path d="M972.0 1381.3H1000.5" stroke="#e8111a" stroke-width="3.2"/>
<text class="lg" x="1014.5" y="1387.9">100% water saturation</text>
</g>
<g class="chart">
<rect x="1442.0" y="1342.2" width="561.3" height="392.4" fill="#e3e3e3"/>
<path d="M1477.1 1342.2V1734.6M1547.2 1342.2V1734.6M1617.4 1342.2V1734.6M1687.6 1342.2V1734.6M1757.7 1342.2V1734.6M1827.9 1342.2V1734.6M1898.1 1342.2V1734.6M1968.2 1342.2V1734.6M1442.0 1715.0H2003.3M1442.0 1675.7H2003.3M1442.0 1636.5H2003.3M1442.0 1597.3H2003.3M1442.0 1558.0H2003.3M1442.0 1518.8H2003.3M1442.0 1479.5H2003.3M1442.0 1440.3H2003.3M1442.0 1401.1H2003.3M1442.0 1361.8H2003.3" stroke="#dddddd" stroke-width="1.1" fill="none"/>
<path d="M1512.2 1342.2V1734.6M1582.3 1342.2V1734.6M1652.5 1342.2V1734.6M1722.7 1342.2V1734.6M1792.8 1342.2V1734.6M1863.0 1342.2V1734.6M1933.1 1342.2V1734.6M1442.0 1695.4H2003.3M1442.0 1656.1H2003.3M1442.0 1616.9H2003.3M1442.0 1577.6H2003.3M1442.0 1538.4H2003.3M1442.0 1499.2H2003.3M1442.0 1459.9H2003.3M1442.0 1420.7H2003.3M1442.0 1381.4H2003.3" stroke="#c1c1c1" stroke-width="1.5" fill="none"/>
<polyline points="1477.1,1684.4 1512.2,1678.3 1582.3,1658.2 1652.5,1637.3 1722.7,1628.9 1792.8,1626.8 1863.0,1626.1 1933.1,1626.1 2003.3,1627.2" fill="none" stroke="#0a0a0a" stroke-width="3.2" stroke-linejoin="round"/>
<polyline points="1477.1,1599.5 1512.2,1581.0 1582.3,1574.2 1652.5,1592.7 1722.7,1609.6 1792.8,1618.8 1863.0,1624.7 1933.1,1629.7 2003.3,1635.3" fill="none" stroke="#e8111a" stroke-width="3.2" stroke-linejoin="round"/>
<polygon points="1477.1,1496.2 1512.2,1513.4 1582.3,1532.4 1652.5,1546.4 1722.7,1560.5 1792.8,1573.7 1863.0,1584.7 1933.1,1595.5 2003.3,1605.6 2003.3,1611.5 1933.1,1602.0 1863.0,1592.6 1792.8,1582.7 1722.7,1571.8 1652.5,1560.5 1582.3,1550.5 1512.2,1538.4 1477.1,1528.4" fill="#1040d0" fill-opacity="0.22" stroke="#1212d8" stroke-opacity="0.45" stroke-width="1"/>
<polyline points="1477.1,1513.1 1512.2,1526.3 1582.3,1541.2 1652.5,1553.3 1722.7,1566.6 1792.8,1578.6 1863.0,1588.6 1933.1,1598.7 2003.3,1608.8" fill="none" stroke="#1212d8" stroke-width="3.2" stroke-linejoin="round"/>
<polygon points="1477.1,1496.2 1512.2,1505.0 1582.3,1521.5 1652.5,1539.6 1722.7,1556.5 1792.8,1570.6 1863.0,1582.7 1933.1,1592.6 2003.3,1602.0 2003.3,1622.8 1933.1,1616.9 1863.0,1608.8 1792.8,1598.8 1722.7,1586.7 1652.5,1574.5 1582.3,1564.5 1512.2,1557.7 1477.1,1554.5" fill="#20a030" fill-opacity="0.22" stroke="#0e8428" stroke-opacity="0.45" stroke-width="1"/>
<polyline points="1477.1,1524.3 1512.2,1530.4 1582.3,1542.3 1652.5,1556.5 1722.7,1571.4 1792.8,1584.7 1863.0,1595.9 1933.1,1604.7 2003.3,1612.8" fill="none" stroke="#0e8428" stroke-width="3.2" stroke-linejoin="round"/>
<path d="M1442.0 1341.2V1735.6M1441.0 1734.6H2004.3M1442.0 1734.6v7.2M1512.2 1734.6v7.2M1582.3 1734.6v7.2M1652.5 1734.6v7.2M1722.7 1734.6v7.2M1792.8 1734.6v7.2M1863.0 1734.6v7.2M1933.1 1734.6v7.2M2003.3 1734.6v7.2M1477.1 1734.6v3.8M1547.2 1734.6v3.8M1617.4 1734.6v3.8M1687.6 1734.6v3.8M1757.7 1734.6v3.8M1827.9 1734.6v3.8M1898.1 1734.6v3.8M1968.2 1734.6v3.8M1442.0 1734.6h-7.2M1442.0 1695.4h-7.2M1442.0 1656.1h-7.2M1442.0 1616.9h-7.2M1442.0 1577.6h-7.2M1442.0 1538.4h-7.2M1442.0 1499.2h-7.2M1442.0 1459.9h-7.2M1442.0 1420.7h-7.2M1442.0 1381.4h-7.2M1442.0 1342.2h-7.2M1442.0 1715.0h-3.8M1442.0 1675.7h-3.8M1442.0 1636.5h-3.8M1442.0 1597.3h-3.8M1442.0 1558.0h-3.8M1442.0 1518.8h-3.8M1442.0 1479.5h-3.8M1442.0 1440.3h-3.8M1442.0 1401.1h-3.8M1442.0 1361.8h-3.8" stroke="#2a2a2a" stroke-width="2" fill="none"/>
<g class="tk" text-anchor="middle">
<text x="1442.0" y="1760.4">0</text>
<text x="1512.2" y="1760.4">5</text>
<text x="1582.3" y="1760.4">10</text>
<text x="1652.5" y="1760.4">15</text>
<text x="1722.7" y="1760.4">20</text>
<text x="1792.8" y="1760.4">25</text>
<text x="1863.0" y="1760.4">30</text>
<text x="1933.1" y="1760.4">35</text>
<text x="2003.3" y="1760.4">40</text>
</g><g class="tk" text-anchor="end">
<text x="1428.0" y="1740.9">0.00</text>
<text x="1428.0" y="1701.7">0.05</text>
<text x="1428.0" y="1662.4">0.10</text>
<text x="1428.0" y="1623.2">0.15</text>
<text x="1428.0" y="1583.9">0.20</text>
<text x="1428.0" y="1544.7">0.25</text>
<text x="1428.0" y="1505.5">0.30</text>
<text x="1428.0" y="1466.2">0.35</text>
<text x="1428.0" y="1427.0">0.40</text>
<text x="1428.0" y="1387.7">0.45</text>
<text x="1428.0" y="1348.5">0.50</text>
</g>
<text class="al" text-anchor="middle" x="1722.0" y="1794.4">Surface contact pressure [N/mm<tspan font-size="14.5" dy="-8">2</tspan><tspan dy="8">]</tspan></text>
<text class="al" text-anchor="middle" transform="translate(1380.0 1538.0) rotate(-90)">Static COF</text>
<text class="tt" x="1456.3" y="1370.0">PA6 friction-modified</text>
<rect x="1658.9" y="1343.0" width="344.0" height="97.0" fill="#fff" stroke="#2a2a2a" stroke-width="1.7"/>
<path d="M1672.0 1359.3H1699.0" stroke="#0a0a0a" stroke-width="3.2"/>
<text class="lg" x="1708.0" y="1365.9">0% water saturation; lubricated</text>
<path d="M1672.0 1380.8H1699.0" stroke="#e8111a" stroke-width="3.2"/>
<text class="lg" x="1708.0" y="1387.4">100% water saturation; lubricated</text>
<path d="M1672.0 1402.3H1699.0" stroke="#1212d8" stroke-width="3.2"/>
<text class="lg" x="1708.0" y="1408.9">0% water saturation; unlubricated</text>
<path d="M1672.0 1423.8H1699.0" stroke="#0e8428" stroke-width="3.2"/>
<text class="lg" x="1708.0" y="1430.4">100% water saturation; unlubricated</text>
</g>
<g class="chart">
<rect x="716.9" y="1829.3" width="562.6" height="393.5" fill="#e3e3e3"/>
<path d="M752.1 1829.3V2222.8M822.4 1829.3V2222.8M892.7 1829.3V2222.8M963.0 1829.3V2222.8M1033.4 1829.3V2222.8M1103.7 1829.3V2222.8M1174.0 1829.3V2222.8M1244.3 1829.3V2222.8M716.9 2203.1H1279.5M716.9 2163.8H1279.5M716.9 2124.4H1279.5M716.9 2085.1H1279.5M716.9 2045.7H1279.5M716.9 2006.4H1279.5M716.9 1967.0H1279.5M716.9 1927.7H1279.5M716.9 1888.3H1279.5M716.9 1849.0H1279.5" stroke="#dddddd" stroke-width="1.1" fill="none"/>
<path d="M787.2 1829.3V2222.8M857.5 1829.3V2222.8M927.9 1829.3V2222.8M998.2 1829.3V2222.8M1068.5 1829.3V2222.8M1138.8 1829.3V2222.8M1209.2 1829.3V2222.8M716.9 2183.5H1279.5M716.9 2144.1H1279.5M716.9 2104.8H1279.5M716.9 2065.4H1279.5M716.9 2026.1H1279.5M716.9 1986.7H1279.5M716.9 1947.3H1279.5M716.9 1908.0H1279.5M716.9 1868.7H1279.5" stroke="#c1c1c1" stroke-width="1.5" fill="none"/>
<polygon points="752.1,2073.3 787.2,2092.5 857.5,2106.5 927.9,2115.8 998.2,2121.0 1068.5,2126.2 1138.8,2129.4 1209.2,2129.0 1279.5,2118.1 1279.5,2121.3 1209.2,2132.1 1138.8,2132.5 1068.5,2129.3 998.2,2124.1 927.9,2118.9 857.5,2109.6 787.2,2095.6 752.1,2078.8" fill="#000" fill-opacity="0.24" stroke="#0a0a0a" stroke-opacity="0.45" stroke-width="1"/>
<polyline points="752.1,2076.0 787.2,2094.0 857.5,2108.1 927.9,2117.3 998.2,2122.5 1068.5,2127.7 1138.8,2131.0 1209.2,2130.6 1279.5,2119.7" fill="none" stroke="#0a0a0a" stroke-width="3.2" stroke-linejoin="round"/>
<polygon points="752.1,2031.1 787.2,2063.1 857.5,2089.2 927.9,2102.1 998.2,2113.4 1068.5,2118.5 1138.8,2122.5 1209.2,2126.2 1279.5,2119.3 1279.5,2153.5 1209.2,2153.5 1138.8,2150.2 1068.5,2144.6 998.2,2134.2 927.9,2125.3 857.5,2113.4 787.2,2093.3 752.1,2069.2" fill="#ff1a1a" fill-opacity="0.22" stroke="#e8111a" stroke-opacity="0.45" stroke-width="1"/>
<polyline points="752.1,2048.3 787.2,2078.4 857.5,2101.7 927.9,2113.4 998.2,2123.3 1068.5,2130.6 1138.8,2135.4 1209.2,2139.4 1279.5,2135.0" fill="none" stroke="#e8111a" stroke-width="3.2" stroke-linejoin="round"/>
<path d="M716.9 1828.3V2223.8M715.9 2222.8H1280.5M716.9 2222.8v7.2M787.2 2222.8v7.2M857.5 2222.8v7.2M927.9 2222.8v7.2M998.2 2222.8v7.2M1068.5 2222.8v7.2M1138.8 2222.8v7.2M1209.2 2222.8v7.2M1279.5 2222.8v7.2M752.1 2222.8v3.8M822.4 2222.8v3.8M892.7 2222.8v3.8M963.0 2222.8v3.8M1033.4 2222.8v3.8M1103.7 2222.8v3.8M1174.0 2222.8v3.8M1244.3 2222.8v3.8M716.9 2222.8h-7.2M716.9 2183.5h-7.2M716.9 2144.1h-7.2M716.9 2104.8h-7.2M716.9 2065.4h-7.2M716.9 2026.1h-7.2M716.9 1986.7h-7.2M716.9 1947.3h-7.2M716.9 1908.0h-7.2M716.9 1868.7h-7.2M716.9 1829.3h-7.2M716.9 2203.1h-3.8M716.9 2163.8h-3.8M716.9 2124.4h-3.8M716.9 2085.1h-3.8M716.9 2045.7h-3.8M716.9 2006.4h-3.8M716.9 1967.0h-3.8M716.9 1927.7h-3.8M716.9 1888.3h-3.8M716.9 1849.0h-3.8" stroke="#2a2a2a" stroke-width="2" fill="none"/>
<g class="tk" text-anchor="middle">
<text x="716.9" y="2248.6">0</text>
<text x="787.2" y="2248.6">5</text>
<text x="857.5" y="2248.6">10</text>
<text x="927.9" y="2248.6">15</text>
<text x="998.2" y="2248.6">20</text>
<text x="1068.5" y="2248.6">25</text>
<text x="1138.8" y="2248.6">30</text>
<text x="1209.2" y="2248.6">35</text>
<text x="1279.5" y="2248.6">40</text>
</g><g class="tk" text-anchor="end">
<text x="702.9" y="2229.1">0.00</text>
<text x="702.9" y="2189.8">0.05</text>
<text x="702.9" y="2150.4">0.10</text>
<text x="702.9" y="2111.1">0.15</text>
<text x="702.9" y="2071.7">0.20</text>
<text x="702.9" y="2032.4">0.25</text>
<text x="702.9" y="1993.0">0.30</text>
<text x="702.9" y="1953.6">0.35</text>
<text x="702.9" y="1914.3">0.40</text>
<text x="702.9" y="1875.0">0.45</text>
<text x="702.9" y="1835.6">0.50</text>
</g>
<text class="al" text-anchor="middle" x="1000.0" y="2277.8">Surface contact pressure [N/mm<tspan font-size="14.5" dy="-8">2</tspan><tspan dy="8">]</tspan></text>
<text class="al" text-anchor="middle" transform="translate(658.6 2025.0) rotate(-90)">Dynamic COF</text>
<text class="tt" x="731.9" y="1855.9">PA6 friction-modified</text>
<rect x="953.0" y="1830.7" width="326.0" height="52.6" fill="#fff" stroke="#2a2a2a" stroke-width="1.7"/>
<path d="M971.0 1846.8H999.5" stroke="#0a0a0a" stroke-width="3.2"/>
<text class="lg" x="1013.5" y="1853.4">0% water saturation</text>
<path d="M971.0 1868.3H999.5" stroke="#e8111a" stroke-width="3.2"/>
<text class="lg" x="1013.5" y="1874.9">100% water saturation</text>
</g>
<g class="chart">
<rect x="1438.8" y="1831.1" width="561.7" height="391.5" fill="#e3e3e3"/>
<path d="M1473.9 1831.1V2222.6M1544.1 1831.1V2222.6M1614.3 1831.1V2222.6M1684.5 1831.1V2222.6M1754.8 1831.1V2222.6M1825.0 1831.1V2222.6M1895.2 1831.1V2222.6M1965.4 1831.1V2222.6M1438.8 2203.0H2000.5M1438.8 2163.9H2000.5M1438.8 2124.7H2000.5M1438.8 2085.6H2000.5M1438.8 2046.4H2000.5M1438.8 2007.3H2000.5M1438.8 1968.1H2000.5M1438.8 1929.0H2000.5M1438.8 1889.8H2000.5M1438.8 1850.7H2000.5" stroke="#dddddd" stroke-width="1.1" fill="none"/>
<path d="M1509.0 1831.1V2222.6M1579.2 1831.1V2222.6M1649.4 1831.1V2222.6M1719.7 1831.1V2222.6M1789.9 1831.1V2222.6M1860.1 1831.1V2222.6M1930.3 1831.1V2222.6M1438.8 2183.4H2000.5M1438.8 2144.3H2000.5M1438.8 2105.2H2000.5M1438.8 2066.0H2000.5M1438.8 2026.8H2000.5M1438.8 1987.7H2000.5M1438.8 1948.5H2000.5M1438.8 1909.4H2000.5M1438.8 1870.2H2000.5" stroke="#c1c1c1" stroke-width="1.5" fill="none"/>
<polyline points="1473.9,2192.1 1509.0,2185.4 1579.2,2165.8 1649.4,2140.2 1719.7,2131.8 1789.9,2128.1 1860.1,2126.9 1930.3,2125.4 2000.5,2128.6" fill="none" stroke="#0a0a0a" stroke-width="3.2" stroke-linejoin="round"/>
<polyline points="1473.9,2108.5 1509.0,2094.1 1579.2,2095.3 1649.4,2107.3 1719.7,2121.4 1789.9,2127.3 1860.1,2128.1 1930.3,2133.3 2000.5,2134.5" fill="none" stroke="#e8111a" stroke-width="3.2" stroke-linejoin="round"/>
<polygon points="1473.9,2029.3 1509.0,2040.1 1579.2,2047.3 1649.4,2064.5 1719.7,2075.3 1789.9,2082.5 1860.1,2091.3 1930.3,2101.3 2000.5,2109.3 2000.5,2113.3 1930.3,2105.3 1860.1,2096.1 1789.9,2088.5 1719.7,2082.1 1649.4,2076.5 1579.2,2067.3 1509.0,2053.3 1473.9,2047.3" fill="#1040d0" fill-opacity="0.22" stroke="#1212d8" stroke-opacity="0.45" stroke-width="1"/>
<polyline points="1473.9,2039.2 1509.0,2046.4 1579.2,2058.2 1649.4,2070.1 1719.7,2078.5 1789.9,2085.3 1860.1,2093.4 1930.3,2103.3 2000.5,2111.4" fill="none" stroke="#1212d8" stroke-width="3.2" stroke-linejoin="round"/>
<polygon points="1473.9,2016.0 1509.0,2030.0 1579.2,2041.3 1649.4,2059.3 1719.7,2072.5 1789.9,2082.4 1860.1,2093.4 1930.3,2103.3 2000.5,2111.4 2000.5,2120.5 1930.3,2114.2 1860.1,2105.2 1789.9,2097.3 1719.7,2091.3 1649.4,2082.1 1579.2,2071.2 1509.0,2066.5 1473.9,2062.5" fill="#20a030" fill-opacity="0.22" stroke="#0e8428" stroke-opacity="0.45" stroke-width="1"/>
<polyline points="1473.9,2038.4 1509.0,2047.3 1579.2,2057.3 1649.4,2071.2 1719.7,2082.1 1789.9,2089.3 1860.1,2100.5 1930.3,2108.5 2000.5,2115.3" fill="none" stroke="#0e8428" stroke-width="3.2" stroke-linejoin="round"/>
<path d="M1438.8 1830.1V2223.6M1437.8 2222.6H2001.5M1438.8 2222.6v7.2M1509.0 2222.6v7.2M1579.2 2222.6v7.2M1649.4 2222.6v7.2M1719.7 2222.6v7.2M1789.9 2222.6v7.2M1860.1 2222.6v7.2M1930.3 2222.6v7.2M2000.5 2222.6v7.2M1473.9 2222.6v3.8M1544.1 2222.6v3.8M1614.3 2222.6v3.8M1684.5 2222.6v3.8M1754.8 2222.6v3.8M1825.0 2222.6v3.8M1895.2 2222.6v3.8M1965.4 2222.6v3.8M1438.8 2222.6h-7.2M1438.8 2183.4h-7.2M1438.8 2144.3h-7.2M1438.8 2105.2h-7.2M1438.8 2066.0h-7.2M1438.8 2026.8h-7.2M1438.8 1987.7h-7.2M1438.8 1948.5h-7.2M1438.8 1909.4h-7.2M1438.8 1870.2h-7.2M1438.8 1831.1h-7.2M1438.8 2203.0h-3.8M1438.8 2163.9h-3.8M1438.8 2124.7h-3.8M1438.8 2085.6h-3.8M1438.8 2046.4h-3.8M1438.8 2007.3h-3.8M1438.8 1968.1h-3.8M1438.8 1929.0h-3.8M1438.8 1889.8h-3.8M1438.8 1850.7h-3.8" stroke="#2a2a2a" stroke-width="2" fill="none"/>
<g class="tk" text-anchor="middle">
<text x="1438.8" y="2248.4">0</text>
<text x="1509.0" y="2248.4">5</text>
<text x="1579.2" y="2248.4">10</text>
<text x="1649.4" y="2248.4">15</text>
<text x="1719.7" y="2248.4">20</text>
<text x="1789.9" y="2248.4">25</text>
<text x="1860.1" y="2248.4">30</text>
<text x="1930.3" y="2248.4">35</text>
<text x="2000.5" y="2248.4">40</text>
</g><g class="tk" text-anchor="end">
<text x="1424.8" y="2228.9">0.00</text>
<text x="1424.8" y="2189.8">0.05</text>
<text x="1424.8" y="2150.6">0.10</text>
<text x="1424.8" y="2111.5">0.15</text>
<text x="1424.8" y="2072.3">0.20</text>
<text x="1424.8" y="2033.1">0.25</text>
<text x="1424.8" y="1994.0">0.30</text>
<text x="1424.8" y="1954.8">0.35</text>
<text x="1424.8" y="1915.7">0.40</text>
<text x="1424.8" y="1876.5">0.45</text>
<text x="1424.8" y="1837.4">0.50</text>
</g>
<text class="al" text-anchor="middle" x="1722.0" y="2277.8">Surface contact pressure [N/mm<tspan font-size="14.5" dy="-8">2</tspan><tspan dy="8">]</tspan></text>
<text class="al" text-anchor="middle" transform="translate(1380.0 2023.0) rotate(-90)">Dynamic COF</text>
<text class="tt" x="1451.9" y="1855.9">PA6 friction-modified</text>
<rect x="1656.8" y="1831.3" width="343.3" height="97.0" fill="#fff" stroke="#2a2a2a" stroke-width="1.7"/>
<path d="M1669.0 1847.3H1696.0" stroke="#0a0a0a" stroke-width="3.2"/>
<text class="lg" x="1705.0" y="1853.9">0% water saturation; lubricated</text>
<path d="M1669.0 1868.8H1696.0" stroke="#e8111a" stroke-width="3.2"/>
<text class="lg" x="1705.0" y="1875.4">100% water saturation; lubricated</text>
<path d="M1669.0 1890.3H1696.0" stroke="#1212d8" stroke-width="3.2"/>
<text class="lg" x="1705.0" y="1896.9">0% water saturation; unlubricated</text>
<path d="M1669.0 1911.8H1696.0" stroke="#0e8428" stroke-width="3.2"/>
<text class="lg" x="1705.0" y="1918.4">100% water saturation; unlubricated</text>
</g>
</g>
</svg></body></html>
